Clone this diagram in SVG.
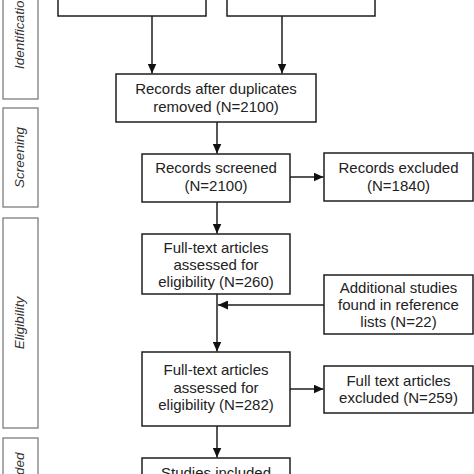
<svg xmlns="http://www.w3.org/2000/svg" width="474" height="474" viewBox="0 0 474 474">
<style>
.box{fill:#fff;stroke:#1e1e1e;stroke-width:1.5}
.side{fill:#fff;stroke:#7d7d7d;stroke-width:1.3}
.t{font-family:"Liberation Sans",Arial,sans-serif;font-size:15px;fill:#222;text-anchor:middle}
.s{font-family:"Liberation Sans",Arial,sans-serif;font-size:13.5px;font-style:italic;fill:#333;text-anchor:middle}
.c{fill:none;stroke:#1e1e1e;stroke-width:1.5}
</style>
<defs>
<marker id="ah" markerUnits="userSpaceOnUse" markerWidth="10" markerHeight="9" refX="10" refY="4.5" orient="auto">
<path d="M0,0 L10,4.5 L0,9 Z" fill="#111"/>
</marker>
</defs>
<rect width="474" height="474" fill="#fff"/>
<g id="label-identification"><rect class="side" x="3" y="-20" width="35" height="119"/><text class="s" transform="translate(24,31) rotate(-90)">Identification</text></g>
<g id="label-screening"><rect class="side" x="3" y="108" width="35" height="99"/><text class="s" transform="translate(24,157.5) rotate(-90)">Screening</text></g>
<g id="label-eligibility"><rect class="side" x="3" y="218" width="35" height="210"/><text class="s" transform="translate(24,323) rotate(-90)">Eligibility</text></g>
<g id="label-included"><rect class="side" x="3" y="438" width="35" height="60"/><text class="s" transform="translate(24,478) rotate(-90)">Included</text></g>
<g id="src-left"><rect class="box" x="58" y="-30" width="148" height="46"/></g>
<g id="src-right"><rect class="box" x="227" y="-30" width="148" height="46"/></g>
<g id="dedup"><rect class="box" x="116" y="74" width="200" height="48"/><text class="t" x="216" y="94">Records after duplicates</text><text class="t" x="216" y="112">removed (N=2100)</text></g>
<g id="screened"><rect class="box" x="142" y="154" width="148" height="48"/><text class="t" x="216" y="173">Records screened</text><text class="t" x="216" y="191">(N=2100)</text></g>
<g id="excluded"><rect class="box" x="324" y="153" width="149" height="48"/><text class="t" x="398.5" y="173">Records excluded</text><text class="t" x="398.5" y="191">(N=1840)</text></g>
<g id="fulltext1"><rect class="box" x="142" y="234" width="148" height="60"/><text class="t" x="216" y="252.5">Full-text articles</text><text class="t" x="216" y="269.5">assessed for</text><text class="t" x="216" y="286.5">eligibility (N=260)</text></g>
<g id="additional"><rect class="box" x="324" y="275" width="149" height="59"/><text class="t" x="398.5" y="293">Additional studies</text><text class="t" x="398.5" y="310">found in reference</text><text class="t" x="398.5" y="327">lists (N=22)</text></g>
<g id="fulltext2"><rect class="box" x="142" y="352" width="148" height="74"/><text class="t" x="216" y="375">Full-text articles</text><text class="t" x="216" y="392.5">assessed for</text><text class="t" x="216" y="410">eligibility (N=282)</text></g>
<g id="ftexcluded"><rect class="box" x="324" y="366" width="149" height="47"/><text class="t" x="398.5" y="386">Full text articles</text><text class="t" x="398.5" y="403">excluded (N=259)</text></g>
<g id="included"><rect class="box" x="142" y="458" width="148" height="50"/><text class="t" x="216" y="478">Studies included</text></g>
<g id="connectors">
<line class="c" x1="152" y1="16" x2="152" y2="73.5" marker-end="url(#ah)"/>
<line class="c" x1="282" y1="16" x2="282" y2="73.5" marker-end="url(#ah)"/>
<line class="c" x1="217" y1="122" x2="217" y2="153.5" marker-end="url(#ah)"/>
<line class="c" x1="290" y1="177" x2="323.5" y2="177" marker-end="url(#ah)"/>
<line class="c" x1="217" y1="202" x2="217" y2="233.5" marker-end="url(#ah)"/>
<line class="c" x1="217" y1="294" x2="217" y2="351.5" marker-end="url(#ah)"/>
<line class="c" x1="324" y1="305" x2="218" y2="305" marker-end="url(#ah)"/>
<line class="c" x1="290" y1="389" x2="323.5" y2="389" marker-end="url(#ah)"/>
<line class="c" x1="217" y1="426" x2="217" y2="457.5" marker-end="url(#ah)"/>
</g>
</svg>
